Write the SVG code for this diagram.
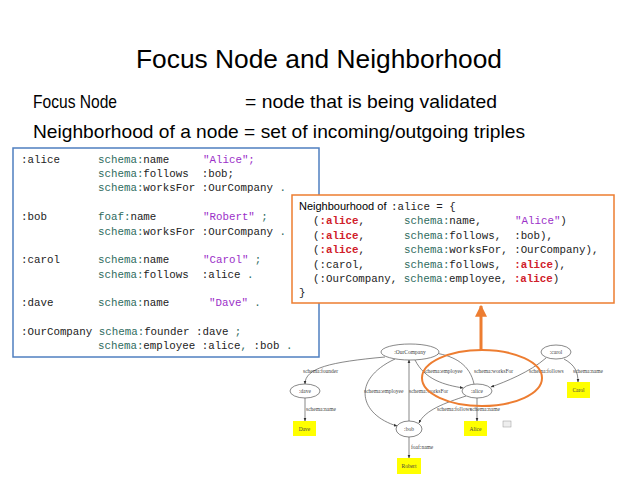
<svg xmlns="http://www.w3.org/2000/svg" width="638" height="478" viewBox="0 0 638 478">
<defs>
<style>
.t{font-family:"Liberation Sans",Arial,sans-serif;fill:#000}
.m{font-family:"Liberation Mono","DejaVu Sans Mono",monospace;font-size:10.8px;fill:#222;white-space:pre}
.p{fill:#2e6b5e}.s{fill:#9b30c8}.r{fill:#d0202a;font-weight:bold}
.g{font-family:"Liberation Serif",serif;font-size:5.5px;fill:#444}
.n{fill:#fff;stroke:#555;stroke-width:0.7}
.y{fill:#ffff00}
.e{fill:none;stroke:#555;stroke-width:0.7;marker-end:url(#a)}
</style>
<marker id="a" viewBox="0 0 10 10" refX="9" refY="5" markerWidth="5" markerHeight="5" orient="auto"><path d="M0,1 L10,5 L0,9z" fill="#333"/></marker>
<marker id="o" viewBox="0 0 10 10" refX="9" refY="5" markerWidth="4" markerHeight="4" orient="auto"><path d="M0,0 L10,5 L0,10z" fill="#ed7d31"/></marker>
</defs>
<rect width="638" height="478" fill="#fff"/>
<g id="title">
<text class="t" x="319" y="68" font-size="25" text-anchor="middle" textLength="366" lengthAdjust="spacingAndGlyphs">Focus Node and Neighborhood</text>
<text class="t" x="33" y="108" font-size="18.5" textLength="84" lengthAdjust="spacingAndGlyphs">Focus Node</text>
<text class="t" x="245" y="108" font-size="18.5" textLength="252" lengthAdjust="spacingAndGlyphs">= node that is being validated</text>
<text class="t" x="33" y="138" font-size="18.5" textLength="492" lengthAdjust="spacingAndGlyphs">Neighborhood of a node = set of incoming/outgoing triples</text>
</g>
<g id="code">
<rect x="13" y="148" width="306" height="209" fill="#fff" stroke="#4f7fc0" stroke-width="1.5"/>
<text class="m" x="21" y="163">:alice</text>
<text class="m" x="98" y="163"><tspan class="p">schema:</tspan>name</text><text class="m s" x="203" y="163">"Alice";</text>
<text class="m" x="98" y="177"><tspan class="p">schema:</tspan>follows  :bob;</text>
<text class="m" x="98" y="191"><tspan class="p">schema:</tspan>worksFor :OurCompany <tspan class="p">.</tspan></text>
<text class="m" x="21" y="220">:bob</text>
<text class="m" x="98" y="220"><tspan class="p">foaf:</tspan>name</text><text class="m s" x="203" y="220">"Robert" <tspan class="p">;</tspan></text>
<text class="m" x="98" y="235"><tspan class="p">schema:</tspan>worksFor :OurCompany <tspan class="p">.</tspan></text>
<text class="m" x="21" y="263">:carol</text>
<text class="m" x="98" y="263"><tspan class="p">schema:</tspan>name</text><text class="m s" x="203" y="263">"Carol" <tspan class="p">;</tspan></text>
<text class="m" x="98" y="278"><tspan class="p">schema:</tspan>follows  :alice <tspan class="p">.</tspan></text>
<text class="m" x="21" y="306">:dave</text>
<text class="m" x="98" y="306"><tspan class="p">schema:</tspan>name</text><text class="m s" x="209" y="306">"Dave" <tspan class="p">.</tspan></text>
<text class="m" x="21" y="335">:OurCompany <tspan class="p">schema:</tspan>founder :dave <tspan class="p">;</tspan></text>
<text class="m" x="98" y="349"><tspan class="p">schema:</tspan>employee :alice<tspan class="p">,</tspan> :bob <tspan class="p">.</tspan></text>
</g>
<g id="neighbourhood">
<rect x="292" y="195" width="322" height="108" fill="#fff" stroke="#ed7d31" stroke-width="1.5"/>
<text class="t" x="299" y="210" font-size="11">Neighbourhood of</text><text class="m" x="391" y="210">:alice = {</text>
<text class="m" x="313" y="224">(<tspan class="r">:alice</tspan>,</text><text class="m" x="404" y="224"><tspan class="p">schema:</tspan>name,</text><text class="m" x="515" y="224"><tspan class="s">"Alice"</tspan>)</text>
<text class="m" x="313" y="239">(<tspan class="r">:alice</tspan>,</text><text class="m" x="404" y="239"><tspan class="p">schema:</tspan>follows,  :bob),</text>
<text class="m" x="313" y="253">(<tspan class="r">:alice</tspan>,</text><text class="m" x="404" y="253"><tspan class="p">schema:</tspan>worksFor, :OurCompany),</text>
<text class="m" x="313" y="268">(:carol,</text><text class="m" x="404" y="268"><tspan class="p">schema:</tspan>follows,  <tspan class="r">:alice</tspan>),</text>
<text class="m" x="313" y="282">(:OurCompany, <tspan class="p">schema:</tspan>employee, <tspan class="r">:alice</tspan>)</text>
<text class="m" x="299" y="296">}</text>
</g>
<g id="connectors">
<path class="e" d="M385,357 C330,362 305,368 305,384"/>
<path class="e" d="M305,398 L305,421"/>
<path class="e" d="M395,359 C350,380 360,415 397,426"/>
<path class="e" d="M409,421 L409,360"/>
<path class="e" d="M415,360 C425,380 445,385 463,388"/>
<path class="e" d="M474,384 C470,365 455,356 435,353"/>
<path class="e" d="M546,358 C530,372 505,382 491,387"/>
<path class="e" d="M564,359 C575,365 578,372 578,382"/>
<path class="e" d="M466,396 C445,403 425,410 419,423"/>
<path class="e" d="M477,398 L477,421"/>
<path class="e" d="M409,437 L409,458"/>
<g class="g">
<text x="303" y="373">schema:founder</text>
<text x="306" y="411">schema:name</text>
<text x="364" y="393">schema:employee</text>
<text x="409" y="393">schema:worksFor</text>
<text x="423" y="373">schema:employee</text>
<text x="474" y="373">schema:worksFor</text>
<text x="529" y="373">schema:follows</text>
<text x="573" y="373">schema:name</text>
<text x="437" y="411">schema:follows</text>
<text x="470" y="411">schema:name</text>
<text x="411" y="449">foaf:name</text>
</g>
</g>
<g id="OurCompany"><ellipse class="n" cx="410" cy="352" rx="29" ry="8"/><text class="g" x="410" y="354" text-anchor="middle">:OurCompany</text></g>
<g id="carol"><ellipse class="n" cx="556" cy="352" rx="15" ry="7"/><text class="g" x="556" y="354" text-anchor="middle">:carol</text></g>
<g id="dave"><ellipse class="n" cx="305" cy="391" rx="15" ry="7"/><text class="g" x="305" y="393" text-anchor="middle">:dave</text></g>
<g id="alice"><ellipse class="n" cx="477" cy="391" rx="15" ry="7"/><text class="g" x="477" y="393" text-anchor="middle">:alice</text></g>
<g id="bob"><ellipse class="n" cx="409" cy="429" rx="13" ry="8"/><text class="g" x="409" y="431" text-anchor="middle">:bob</text></g>
<g id="CarolLit"><rect class="y" x="567" y="382" width="23" height="16"/><text class="g" x="578.5" y="392" text-anchor="middle">Carol</text></g>
<g id="DaveLit"><rect class="y" x="293" y="421" width="23" height="15"/><text class="g" x="304.5" y="431" text-anchor="middle">Dave</text></g>
<g id="AliceLit"><rect class="y" x="464" y="421" width="23" height="15"/><text class="g" x="475.5" y="431" text-anchor="middle">Alice</text></g>
<g id="RobertLit"><rect class="y" x="397" y="458" width="24" height="16"/><text class="g" x="409" y="468" text-anchor="middle">Robert</text></g>
<rect x="503" y="421" width="8" height="6" fill="#eee" stroke="#999" stroke-width="0.5"/>
<g id="focus">
<ellipse cx="482" cy="378" rx="60" ry="28" fill="none" stroke="#ed7d31" stroke-width="2"/>
<path d="M481,350 L481,306" stroke="#ed7d31" stroke-width="3" fill="none" marker-end="url(#o)"/>
</g>
</svg>
